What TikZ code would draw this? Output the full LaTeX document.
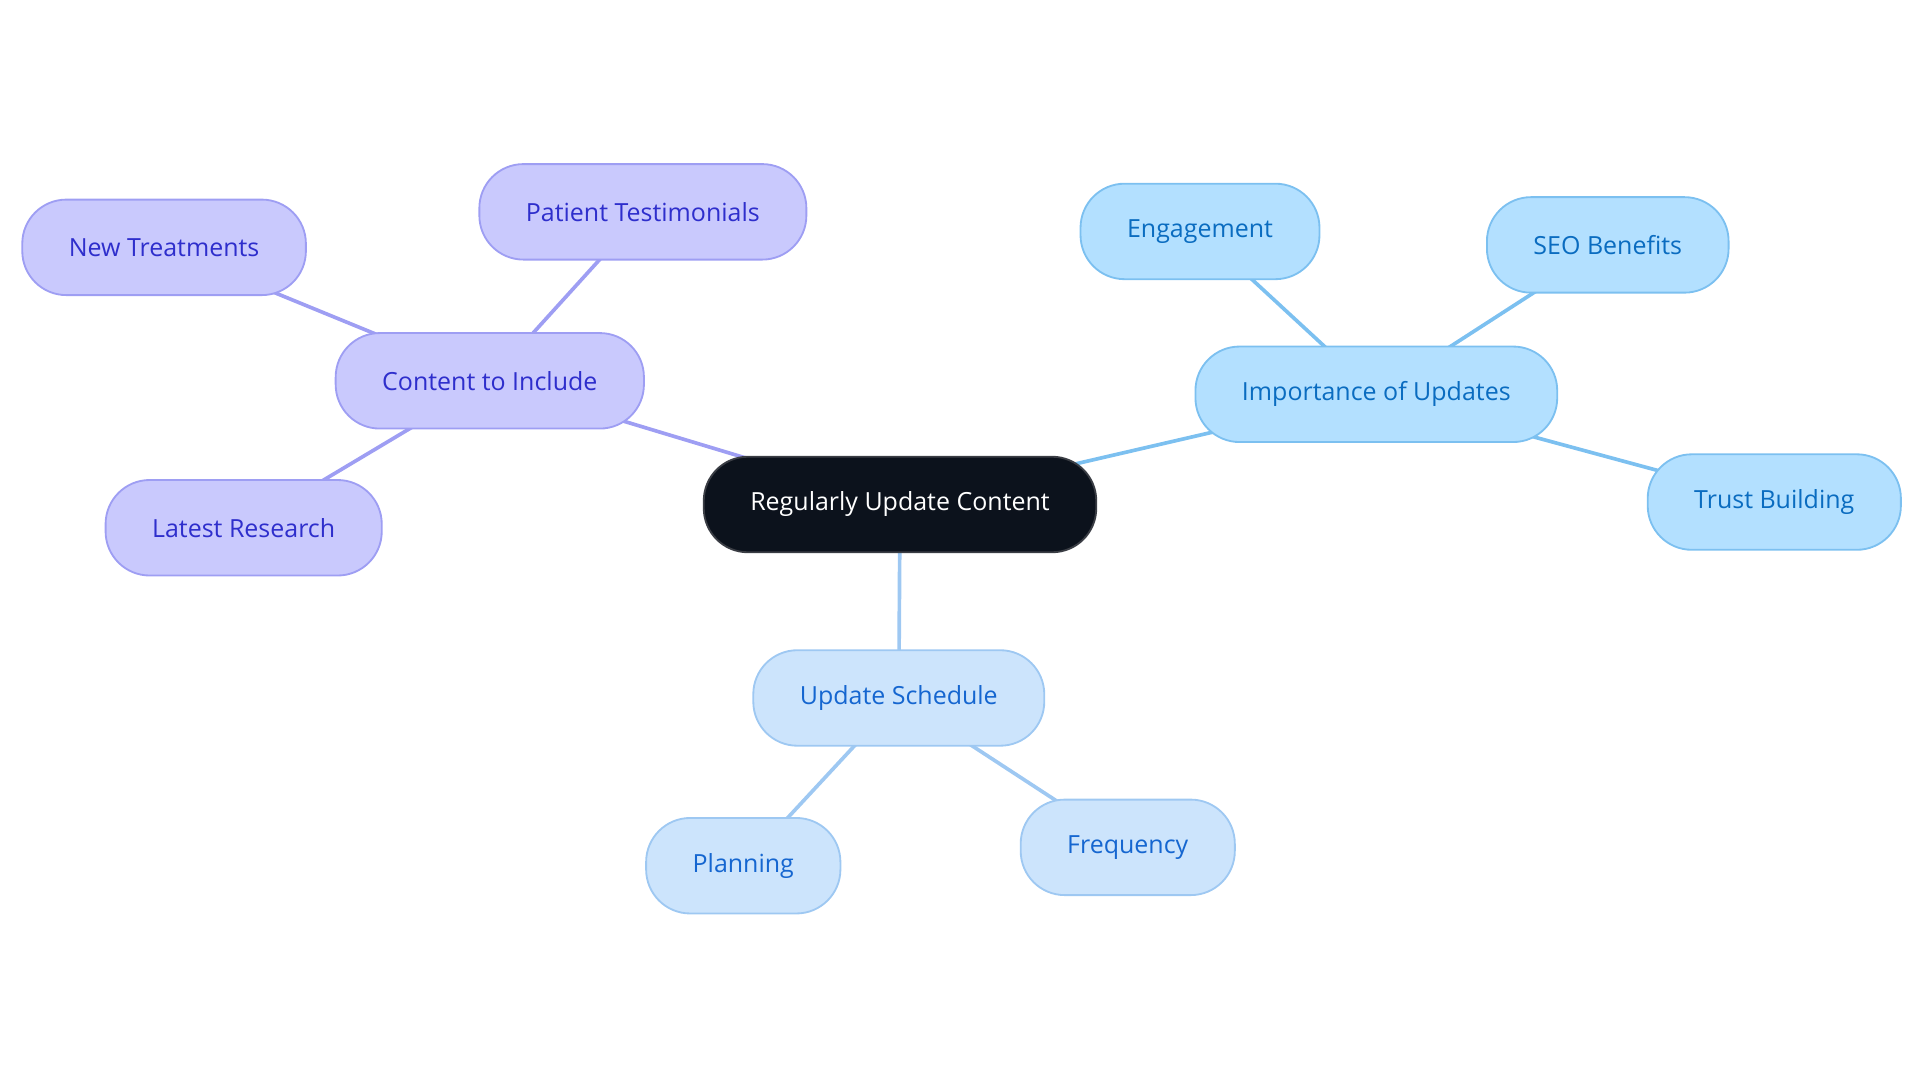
\documentclass[tikz,border=0pt]{standalone}
\usepackage{fontspec}
\setmainfont{Open Sans}
\usetikzlibrary{backgrounds, positioning}
\definecolor{rootfill}{HTML}{0C121C}
\definecolor{rootline}{HTML}{3A3D44}
\definecolor{violetfill}{HTML}{C9C9FD}
\definecolor{violetline}{HTML}{9E9EF3}
\definecolor{violettext}{HTML}{2E2ECC}
\definecolor{skyfill}{HTML}{B3E0FF}
\definecolor{skyline}{HTML}{7CC0F0}
\definecolor{skytext}{HTML}{0A6CC0}
\definecolor{palefill}{HTML}{CCE4FC}
\definecolor{paleline}{HTML}{9EC8F2}
\definecolor{paletext}{HTML}{1566D0}
\tikzset{
    pill/.style={rounded corners=18pt, minimum height=39pt, inner xsep=19pt,
        line width=0.75pt, font=\fontsize{10.2}{12}\selectfont},
    rootpill/.style={pill, draw=rootline, fill=rootfill, text=white},
    violetpill/.style={pill, draw=violetline, fill=violetfill, text=violettext},
    skypill/.style={pill, draw=skyline, fill=skyfill, text=skytext},
    palepill/.style={pill, draw=paleline, fill=palefill, text=paletext},
    link/.style={line width=1.5pt, draw=#1},
    link/.default={violetline}
}

\begin{document}
\begin{tikzpicture}[x=0.5pt, y=-0.5pt]
    \useasboundingbox (0,0) rectangle (1568,884);
    \node[rootpill] (root) at (735, 412) {Regularly Update Content};
    % content
    \node[violetpill] (content) at (400, 311) {Content to Include};
    \node[violetpill] (testimonials) at (525, 173) {Patient Testimonials};
    \node[violetpill] (treatments) at (134, 202) {New Treatments};
    \node[violetpill] (research) at (199, 431) {Latest Research};
    % importance
    \node[skypill] (importance) at (1124, 322) {Importance of Updates};
    \node[skypill] (engagement) at (980, 189) {Engagement};
    \node[skypill] (seo) at (1313, 200) {SEO Benefits};
    \node[skypill] (trust) at (1449, 410) {Trust Building};
    % schedule
    \node[palepill] (schedule) at (734, 570) {Update Schedule};
    \node[palepill] (planning) at (607, 707) {Planning};
    \node[palepill] (frequency) at (921, 692) {Frequency};
    \begin{scope}[on background layer]
    \draw[link] (root.center) -- (content.center);
    \draw[link] (content.center) -- (testimonials.center);
    \draw[link] (content.center) -- (treatments.center);
    \draw[link] (content.center) -- (research.center);
    \draw[link=skyline] (root.center) -- (importance.center);
    \draw[link=skyline] (importance.center) -- (engagement.center);
    \draw[link=skyline] (importance.center) -- (seo.center);
    \draw[link=skyline] (importance.center) -- (trust.center);
    \draw[link=paleline] (root.center) -- (schedule.center);
    \draw[link=paleline] (schedule.center) -- (planning.center);
    \draw[link=paleline] (schedule.center) -- (frequency.center);
    \end{scope}
\end{tikzpicture}
\end{document}
